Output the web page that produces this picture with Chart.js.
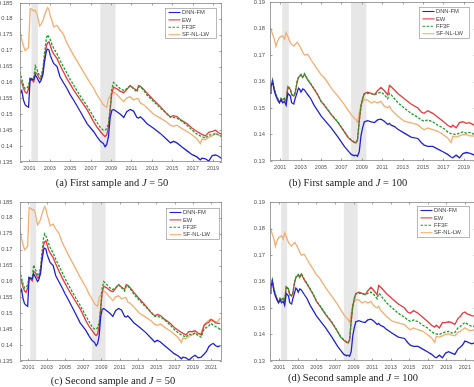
<!DOCTYPE html>
<html>
<head>
<meta charset="utf-8">
<script src="https://cdn.jsdelivr.net/npm/chart.js@4.4.0/dist/chart.umd.min.js"></script>
<style>
  body { margin: 0; width: 474px; height: 387px; overflow: hidden; position: relative; background: #fff; }
  canvas { position: absolute; }
  .cap { position: absolute; font-family: "Liberation Serif", "Times New Roman", serif; font-size: 10.5px;
         line-height: 12px; color: #1a1a1a; white-space: nowrap; transform: translateX(-50%); }
</style>
</head>
<body>
<canvas id="ca" width="254" height="186" style="left:-20px;top:-8px"></canvas>
<canvas id="cb" width="258" height="185" style="left:230px;top:-8px"></canvas>
<canvas id="cc" width="254" height="186" style="left:-20px;top:191px"></canvas>
<canvas id="cd" width="258" height="185" style="left:230px;top:192px"></canvas>
<div class="cap" style="left:112px;top:177px">(a) First sample and <i>J</i> = 50</div>
<div class="cap" style="left:348px;top:177px">(b) First sample and <i>J</i> = 100</div>
<div class="cap" style="left:113px;top:375px">(c) Second sample and <i>J</i> = 50</div>
<div class="cap" style="left:353px;top:372px">(d) Second sample and <i>J</i> = 100</div>
<script>
// series names and recession bands
var names = ['DNN-FM', 'EW', 'FF3F', 'SF-NL-LW'];
var recessions = [[2001.2, 2001.85], [2007.95, 2009.45]];

// tick labels
var xTicksFirst = [2001, 2003, 2005, 2007, 2009, 2011, 2013, 2015, 2017, 2019];
var xTicksSecond = [2001, 2003, 2005, 2007, 2009, 2011, 2013, 2015, 2017, 2019, 2021];
var yTicks50 = [0.135, 0.14, 0.145, 0.15, 0.155, 0.16, 0.165, 0.17, 0.175, 0.18, 0.185];
var yTicks100 = [0.13, 0.14, 0.15, 0.16, 0.17, 0.18, 0.19];

// first sample, J = 50
var yearsA = [2000.08, 2000.25, 2000.42, 2000.58, 2000.75, 2000.92, 2001.08, 2001.25, 2001.42, 2001.58, 2001.75,
  2002.0, 2002.12, 2002.33, 2002.46, 2002.67, 2002.79, 2002.92, 2003.04, 2003.21, 2003.38, 2003.71,
  2004.0, 2004.33, 2004.67, 2005.0, 2005.33, 2006.0, 2006.67, 2007.29, 2007.62, 2007.96,
  2008.25, 2008.42, 2008.58, 2008.75, 2008.92, 2009.08, 2009.25, 2009.58, 2009.92, 2010.25, 2010.54, 2010.88,
  2011.21, 2011.54, 2011.71, 2011.88, 2012.21, 2012.54, 2013.17, 2013.83, 2014.5, 2014.83, 2015.12, 2015.46,
  2015.96, 2016.46, 2016.96, 2017.42, 2017.75, 2017.92, 2018.25, 2018.58, 2018.92, 2019.25, 2019.54, 2019.88];
var dnnA = [0.1566, 0.1575, 0.1545, 0.1530, 0.1525, 0.1522, 0.1613, 0.1610, 0.1608, 0.1624, 0.1615,
  0.1600, 0.1605, 0.1625, 0.1660, 0.1700, 0.1705, 0.1702, 0.1686, 0.1672, 0.1660, 0.1650,
  0.1618, 0.1600, 0.1582, 0.1562, 0.1545, 0.1508, 0.1470, 0.1446, 0.1430, 0.1415,
  0.1408, 0.1398, 0.1405, 0.1430, 0.1490, 0.1512, 0.1515, 0.1508, 0.1500, 0.1490, 0.1508, 0.1515,
  0.1510, 0.1490, 0.1488, 0.1492, 0.1482, 0.1470, 0.1456, 0.1440, 0.1420, 0.1410, 0.1415, 0.1410,
  0.1397, 0.1385, 0.1373, 0.1366, 0.1357, 0.1362, 0.1360, 0.1353, 0.1370, 0.1372, 0.1368, 0.1360];
var ewA = [0.1608, 0.1600, 0.1582, 0.1570, 0.1566, 0.1580, 0.1610, 0.1607, 0.1602, 0.1632, 0.1628,
  0.1612, 0.1610, 0.1635, 0.1670, 0.1715, 0.1725, 0.1728, 0.1717, 0.1700, 0.1690, 0.1675,
  0.1655, 0.1634, 0.1613, 0.1595, 0.1577, 0.1545, 0.1514, 0.1477, 0.1460, 0.1446,
  0.1435, 0.1430, 0.1435, 0.1460, 0.1514, 0.1566, 0.1585, 0.1580, 0.1572, 0.1568, 0.1578, 0.1590,
  0.1582, 0.1575, 0.1590, 0.1588, 0.1578, 0.1566, 0.1545, 0.1524, 0.1500, 0.1492, 0.1496, 0.1493,
  0.1480, 0.1470, 0.1456, 0.1446, 0.1440, 0.1437, 0.1432, 0.1443, 0.1446, 0.1450, 0.1442, 0.1437];
var ff3fA = [0.1634, 0.1610, 0.1592, 0.1580, 0.1582, 0.1590, 0.1615, 0.1612, 0.1610, 0.1652, 0.1640,
  0.1620, 0.1618, 0.1643, 0.1685, 0.1740, 0.1750, 0.1742, 0.1735, 0.1720, 0.1707, 0.1690,
  0.1670, 0.1650, 0.1630, 0.1610, 0.1592, 0.1557, 0.1525, 0.1492, 0.1475, 0.1458,
  0.1450, 0.1450, 0.1455, 0.1470, 0.1520, 0.1580, 0.1600, 0.1590, 0.1580, 0.1575, 0.1580, 0.1590,
  0.1580, 0.1570, 0.1585, 0.1587, 0.1575, 0.1560, 0.1540, 0.1520, 0.1502, 0.1490, 0.1490, 0.1488,
  0.1478, 0.1465, 0.1450, 0.1438, 0.1432, 0.1430, 0.1425, 0.1435, 0.1435, 0.1440, 0.1435, 0.1430];
var sfA = [0.1762, 0.1735, 0.1715, 0.1700, 0.1705, 0.1710, 0.1832, 0.1830, 0.1825, 0.1827, 0.1815,
  0.1778, 0.1782, 0.1795, 0.1810, 0.1828, 0.1835, 0.1828, 0.1810, 0.1795, 0.1775, 0.1780,
  0.1765, 0.1752, 0.1725, 0.1705, 0.1686, 0.1650, 0.1613, 0.1582, 0.1562, 0.1545,
  0.1530, 0.1525, 0.1522, 0.1550, 0.1558, 0.1565, 0.1570, 0.1562, 0.1550, 0.1540, 0.1552, 0.1555,
  0.1545, 0.1550, 0.1548, 0.1535, 0.1530, 0.1520, 0.1500, 0.1488, 0.1475, 0.1465, 0.1462, 0.1466,
  0.1455, 0.1446, 0.1435, 0.1423, 0.1408, 0.1422, 0.1420, 0.1428, 0.1432, 0.1440, 0.1435, 0.1430];

// first sample, J = 100
var yearsB = [2000.0].concat(yearsA, [2020.0]);
var dnnB = [0.1555, 0.1580, 0.1600, 0.1565, 0.1545, 0.1530, 0.1520, 0.1530, 0.1520, 0.1525, 0.1510, 0.1555,
  0.1545, 0.1520, 0.1515, 0.1535, 0.1560, 0.1575, 0.1570, 0.1560, 0.1572, 0.1568, 0.1550,
  0.1535, 0.1510, 0.1490, 0.1470, 0.1455, 0.1425, 0.1390, 0.1355, 0.1340, 0.1325,
  0.1320, 0.1322, 0.1318, 0.1335, 0.1395, 0.1425, 0.1448, 0.1452, 0.1448, 0.1445, 0.1455, 0.1458,
  0.1450, 0.1438, 0.1442, 0.1435, 0.1430, 0.1420, 0.1405, 0.1390, 0.1385, 0.1370, 0.1360, 0.1355,
  0.1355, 0.1345, 0.1335, 0.1325, 0.1315, 0.1312, 0.1322, 0.1312, 0.1328, 0.1332, 0.1330, 0.1325, 0.1322];
var ewB = [0.1555, 0.1580, 0.1605, 0.1570, 0.1550, 0.1535, 0.1520, 0.1535, 0.1530, 0.1535, 0.1525, 0.1580,
  0.1570, 0.1550, 0.1545, 0.1555, 0.1600, 0.1615, 0.1620, 0.1625, 0.1615, 0.1628, 0.1605,
  0.1590, 0.1570, 0.1550, 0.1525, 0.1510, 0.1475, 0.1445, 0.1410, 0.1390, 0.1378,
  0.1370, 0.1368, 0.1378, 0.1450, 0.1505, 0.1535, 0.1555, 0.1560, 0.1555, 0.1550, 0.1565, 0.1578,
  0.1565, 0.1550, 0.1585, 0.1580, 0.1568, 0.1555, 0.1535, 0.1515, 0.1500, 0.1485, 0.1480, 0.1490,
  0.1480, 0.1465, 0.1450, 0.1435, 0.1428, 0.1435, 0.1425, 0.1445, 0.1448, 0.1442, 0.1445, 0.1438, 0.1435];
var ff3fB = [0.1556, 0.1582, 0.1606, 0.1572, 0.1552, 0.1537, 0.1522, 0.1537, 0.1532, 0.1537, 0.1527, 0.1582,
  0.1572, 0.1552, 0.1547, 0.1557, 0.1602, 0.1617, 0.1622, 0.1627, 0.1617, 0.1630, 0.1607,
  0.1592, 0.1572, 0.1552, 0.1527, 0.1512, 0.1477, 0.1447, 0.1412, 0.1392, 0.1380,
  0.1372, 0.1370, 0.1380, 0.1452, 0.1507, 0.1535, 0.1553, 0.1555, 0.1555, 0.1550, 0.1555, 0.1560,
  0.1550, 0.1535, 0.1555, 0.1550, 0.1535, 0.1520, 0.1500, 0.1480, 0.1465, 0.1455, 0.1450, 0.1455,
  0.1448, 0.1435, 0.1425, 0.1410, 0.1403, 0.1402, 0.1400, 0.1405, 0.1410, 0.1405, 0.1408, 0.1403, 0.1400];
var sfB = [0.1803, 0.1797, 0.1778, 0.1760, 0.1733, 0.1753, 0.1765, 0.1770, 0.1772, 0.1760, 0.1784, 0.1770,
  0.1746, 0.1740, 0.1734, 0.1740, 0.1748, 0.1740, 0.1734, 0.1724, 0.1710, 0.1700, 0.1702,
  0.1683, 0.1664, 0.1645, 0.1626, 0.1614, 0.1576, 0.1544, 0.1513, 0.1494, 0.1475,
  0.1462, 0.1456, 0.1446, 0.1481, 0.1513, 0.1525, 0.1532, 0.1530, 0.1519, 0.1525, 0.1519, 0.1525,
  0.1507, 0.1500, 0.1507, 0.1494, 0.1481, 0.1469, 0.1450, 0.1444, 0.1437, 0.1425, 0.1418, 0.1425,
  0.1418, 0.1412, 0.1400, 0.1387, 0.1370, 0.1393, 0.1390, 0.1395, 0.1400, 0.1400, 0.1395, 0.1395, 0.1393];

// second sample: shared history up to mid 2018, then the extra years
var yearsTail = [2018.92, 2019.25, 2019.58, 2019.92, 2020.25, 2020.5, 2020.75, 2021.0, 2021.25, 2021.5, 2021.75, 2022.0];
var dnnCtail = [0.1362, 0.1368, 0.1360, 0.1362, 0.1372, 0.1380, 0.1395, 0.1402, 0.1405, 0.1398, 0.1395, 0.1398];
var ewCtail = [0.1442, 0.1445, 0.1438, 0.1432, 0.1462, 0.1468, 0.1472, 0.1480, 0.1476, 0.1470, 0.1468, 0.1468];
var ff3fCtail = [0.1432, 0.1438, 0.1430, 0.1425, 0.1452, 0.1455, 0.1460, 0.1468, 0.1462, 0.1458, 0.1455, 0.1450];
var sfCtail = [0.1432, 0.1438, 0.1435, 0.1438, 0.1465, 0.1472, 0.1478, 0.1482, 0.1478, 0.1472, 0.1475, 0.1485];
var dnnDtail = [0.1330, 0.1335, 0.1330, 0.1325, 0.1345, 0.1352, 0.1360, 0.1375, 0.1372, 0.1368, 0.1365, 0.1368];
var ewDtail = [0.1445, 0.1448, 0.1445, 0.1438, 0.1460, 0.1468, 0.1480, 0.1485, 0.1478, 0.1475, 0.1470, 0.1470];
var ff3fDtail = [0.1410, 0.1412, 0.1405, 0.1408, 0.1425, 0.1430, 0.1438, 0.1445, 0.1440, 0.1435, 0.1430, 0.1432];
var sfDtail = [0.1400, 0.1402, 0.1398, 0.1395, 0.1408, 0.1412, 0.1418, 0.1425, 0.1420, 0.1415, 0.1415, 0.1418];

var colors = ['#2121d6', '#e8393d', '#1f9a2c', '#f4ae72'];
var dashes = [[], [], [2.5, 1.5], []];
var drawOrder = [1, 3, 2, 4];

var recessionPlugin = {
  id: 'recession',
  beforeDatasetsDraw: function(chart) {
    var ctx = chart.ctx, a = chart.chartArea, x = chart.scales.x;
    ctx.save();
    ctx.fillStyle = '#e7e7e7';
    recessions.forEach(function(r) {
      var x0 = x.getPixelForValue(r[0]), x1 = x.getPixelForValue(r[1]);
      ctx.fillRect(x0, a.top, x1 - x0, a.bottom - a.top);
    });
    ctx.restore();
  }
};

// MATLAB style box with inward ticks, plus the boxed legend
var boxPlugin = {
  id: 'boxLegend',
  afterDatasetsDraw: function(chart, args, opts) {
    var ctx = chart.ctx, a = chart.chartArea;
    ctx.save();
    ctx.strokeStyle = '#8a8a8a';
    ctx.lineWidth = 0.8;
    ctx.strokeRect(a.left + 0.5, a.top + 0.5, a.right - a.left - 1, a.bottom - a.top - 1);
    ctx.beginPath();
    chart.scales.x.ticks.forEach(function(t) {
      var px = Math.round(chart.scales.x.getPixelForValue(t.value)) + 0.5;
      ctx.moveTo(px, a.bottom); ctx.lineTo(px, a.bottom - 2.5);
      ctx.moveTo(px, a.top); ctx.lineTo(px, a.top + 2.5);
    });
    chart.scales.y.ticks.forEach(function(t) {
      var py = Math.round(chart.scales.y.getPixelForValue(t.value)) + 0.5;
      ctx.moveTo(a.left, py); ctx.lineTo(a.left + 2.5, py);
      ctx.moveTo(a.right, py); ctx.lineTo(a.right - 2.5, py);
    });
    ctx.stroke();

    var bx = Math.round(a.right - opts.dx - opts.w) + 0.5, by = Math.round(a.top + opts.dy) + 0.5;
    ctx.fillStyle = '#fff';
    ctx.fillRect(bx, by, opts.w, opts.h);
    ctx.strokeStyle = '#9a9a9a';
    ctx.lineWidth = 0.7;
    ctx.strokeRect(bx, by, opts.w, opts.h);
    ctx.font = '5.8px "Liberation Sans", Arial, sans-serif';
    ctx.textBaseline = 'middle';
    ctx.fillStyle = '#444';
    chart.data.datasets.forEach(function(ds, i) {
      var ly = by + 4 + i * 7.4;
      ctx.strokeStyle = ds.borderColor;
      ctx.lineWidth = 1.1;
      ctx.setLineDash(ds.borderDash || []);
      ctx.beginPath();
      ctx.moveTo(bx + 3, ly); ctx.lineTo(bx + 15, ly);
      ctx.stroke();
      ctx.setLineDash([]);
      ctx.fillText(ds.label, bx + 16.5, ly);
    });
    ctx.restore();
  }
};

function makeChart(id, years, series, xMin, xMax, xTicks, yTicks, yPad, leg) {
  var datasets = series.map(function(vals, k) {
    return {
      label: names[k],
      data: years.map(function(t, i) { return { x: t, y: vals[i] }; }),
      borderColor: colors[k],
      borderDash: dashes[k],
      borderWidth: 1.3,
      pointRadius: 0,
      tension: 0,
      order: drawOrder[k]
    };
  });
  var tickFont = { size: 5.5, family: '"Liberation Sans", Arial, sans-serif' };
  return new Chart(document.getElementById(id), {
    type: 'line',
    data: { datasets: datasets },
    plugins: [recessionPlugin, boxPlugin],
    options: {
      responsive: false,
      animation: false,
      layout: { padding: { top: 10, right: 12, left: 0, bottom: 0 } },
      plugins: { legend: { display: false }, tooltip: { enabled: false }, boxLegend: leg },
      scales: {
        x: {
          type: 'linear', min: xMin, max: xMax,
          grid: { display: false, drawTicks: false }, border: { display: false },
          ticks: { font: tickFont, color: '#555', padding: 3, maxRotation: 0, autoSkip: false,
                   callback: function(v) { return String(v); } },
          afterBuildTicks: function(s) { s.ticks = xTicks.map(function(v) { return { value: v }; }); },
          afterFit: function(s) { s.height = 16; }
        },
        y: {
          min: yTicks[0], max: yTicks[yTicks.length - 1],
          grid: { display: false, drawTicks: false }, border: { display: false },
          ticks: { font: { size: 5.8, family: tickFont.family }, color: '#555', padding: yPad,
                   callback: function(v) { return String(+v.toFixed(3)); } },
          afterBuildTicks: function(s) { s.ticks = yTicks.map(function(v) { return { value: v }; }); },
          afterFit: function(s) { s.width = 40; }
        }
      }
    }
  });
}

var cut = 64; // history shared by the second sample runs through 2018.58
var yearsC = yearsA.slice(0, cut).concat(yearsTail);
var yearsD = yearsB.slice(0, cut + 1).concat(yearsTail);

makeChart('ca', yearsA, [dnnA, ewA, ff3fA, sfA], 2000.08, 2019.88, xTicksFirst, yTicks50, 7.5,
  { dx: 6, dy: 5, w: 51, h: 30 });
makeChart('cb', yearsB, [dnnB, ewB, ff3fB, sfB], 2000.0, 2020.2, xTicksFirst, yTicks100, 5,
  { dx: 7, dy: 5, w: 50, h: 31 });
makeChart('cc', yearsC, [
  dnnA.slice(0, cut).concat(dnnCtail), ewA.slice(0, cut).concat(ewCtail),
  ff3fA.slice(0, cut).concat(ff3fCtail), sfA.slice(0, cut).concat(sfCtail)
], 2000.08, 2022.2, xTicksSecond, yTicks50, 7.5, { dx: 3, dy: 6, w: 53, h: 31 });
makeChart('cd', yearsD, [
  dnnB.slice(0, cut + 1).concat(dnnDtail), ewB.slice(0, cut + 1).concat(ewDtail),
  ff3fB.slice(0, cut + 1).concat(ff3fDtail), sfB.slice(0, cut + 1).concat(sfDtail)
], 2000.0, 2022.2, xTicksSecond, yTicks100, 5, { dx: 7, dy: 4, w: 52, h: 31 });
</script>
</body>
</html>
